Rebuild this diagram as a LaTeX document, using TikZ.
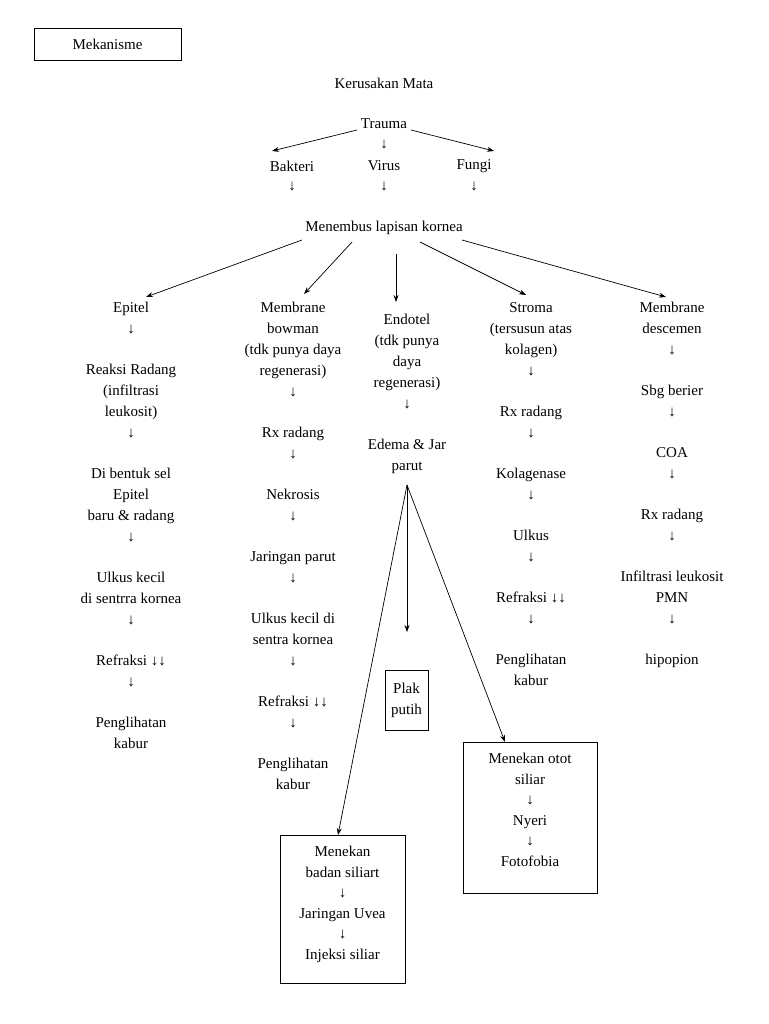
\documentclass[tikz,border=0pt]{standalone}
\usepackage{fontspec}
\setmainfont{Liberation Serif}
\usetikzlibrary{arrows.meta}
\begin{document}
\begin{tikzpicture}[x=1pt,y=-1pt,
  every node/.style={font=\fontsize{15}{21}\selectfont},
  col/.style={anchor=north,inner sep=0pt,align=center},
  lbl/.style={inner sep=1pt},
  bx/.style={draw,line width=0.8pt},
  arr/.style={-{Stealth[length=7pt,width=5pt]},line width=0.7pt}]
\useasboundingbox (0,0) rectangle (768,1024);
\node[bx,minimum width=147pt,minimum height=32pt] (mek) at (107.5,44) {Mekanisme};
\node[lbl] (ker) at (384,83) {Kerusakan Mata};
\node[lbl] (tra) at (384,124) {Trauma};
\node[lbl] (ta) at (384,145) {↓};
\node[lbl] (bak) at (292,166) {Bakteri};
\node[lbl] (vir) at (384,166) {Virus};
\node[lbl] (fun) at (474,166) {Fungi};
\node[lbl] (ba) at (292,187) {↓};
\node[lbl] (va) at (384,187) {↓};
\node[lbl] (fa) at (474,187) {↓};
\node[lbl] (men) at (384,228) {Menembus lapisan kornea};
\coordinate (t1) at (357,130); \coordinate (t2) at (411,130);
\coordinate (b1) at (272,151); \coordinate (f1) at (494,151);
\draw[arr] (t1) -- (b1);
\draw[arr] (t2) -- (f1);
\node[col] (epi) at (131,302) {Epitel\\↓\\[20pt]Reaksi Radang\\(infiltrasi\\leukosit)\\↓\\[20pt]Di bentuk sel\\Epitel\\baru \& radang\\↓\\[20pt]Ulkus kecil\\di sentrra kornea\\↓\\[20pt]Refraksi ↓↓\\↓\\[20pt]Penglihatan\\kabur};
\node[col] (bow) at (293,302) {Membrane\\bowman\\(tdk punya daya\\regenerasi)\\↓\\[20pt]Rx radang\\↓\\[20pt]Nekrosis\\↓\\[20pt]Jaringan parut\\↓\\[20pt]Ulkus kecil di\\sentra kornea\\↓\\[20pt]Refraksi ↓↓\\↓\\[20pt]Penglihatan\\kabur};
\node[col] (end) at (407,314) {Endotel\\(tdk punya\\daya\\regenerasi)\\↓\\[20pt]Edema \& Jar\\parut};
\node[col] (str) at (531,302) {Stroma\\(tersusun atas\\kolagen)\\↓\\[20pt]Rx radang\\↓\\[20pt]Kolagenase\\↓\\[20pt]Ulkus\\↓\\[20pt]Refraksi ↓↓\\↓\\[20pt]Penglihatan\\kabur};
\node[col] (des) at (672,302) {Membrane\\descemen\\↓\\[20pt]Sbg berier\\↓\\[20pt]COA\\↓\\[20pt]Rx radang\\↓\\[20pt]Infiltrasi leukosit\\PMN\\↓\\[20pt]hipopion};
\coordinate (m1) at (302,240); \coordinate (m2) at (352,242); \coordinate (m3) at (396,254);
\coordinate (m4) at (420,242); \coordinate (m5) at (462,240);
\coordinate (e1) at (146,297); \coordinate (e2) at (304,294); \coordinate (e3) at (396,302);
\coordinate (e4) at (526,295); \coordinate (e5) at (666,297);
\draw[arr] (m1) -- (e1);
\draw[arr] (m2) -- (e2);
\draw[arr] (m3) -- (e3);
\draw[arr] (m4) -- (e4);
\draw[arr] (m5) -- (e5);
\node[bx,minimum width=43pt,minimum height=60pt,align=center,inner sep=0pt] (plak) at (406.5,700) {Plak\\putih};
\draw[line width=0.8pt] (463,742) rectangle (597,893);
\node[col,font=\fontsize{15}{20.5}\selectfont] (otot) at (530,753) {Menekan otot\\siliar\\↓\\Nyeri\\↓\\Fotofobia};
\draw[line width=0.8pt] (280,835) rectangle (405,983);
\node[col,font=\fontsize{15}{20.5}\selectfont] (bad) at (342.5,846) {Menekan\\badan siliart\\↓\\Jaringan Uvea\\↓\\Injeksi siliar};
\coordinate (p0) at (407,485); \coordinate (p1) at (407,632);
\coordinate (q1) at (338,835); \coordinate (q2) at (505,742);
\draw[arr] (p0) -- (q1);
\draw[arr] (p0) -- (p1);
\draw[arr] (p0) -- (q2);
\end{tikzpicture}
\end{document}
